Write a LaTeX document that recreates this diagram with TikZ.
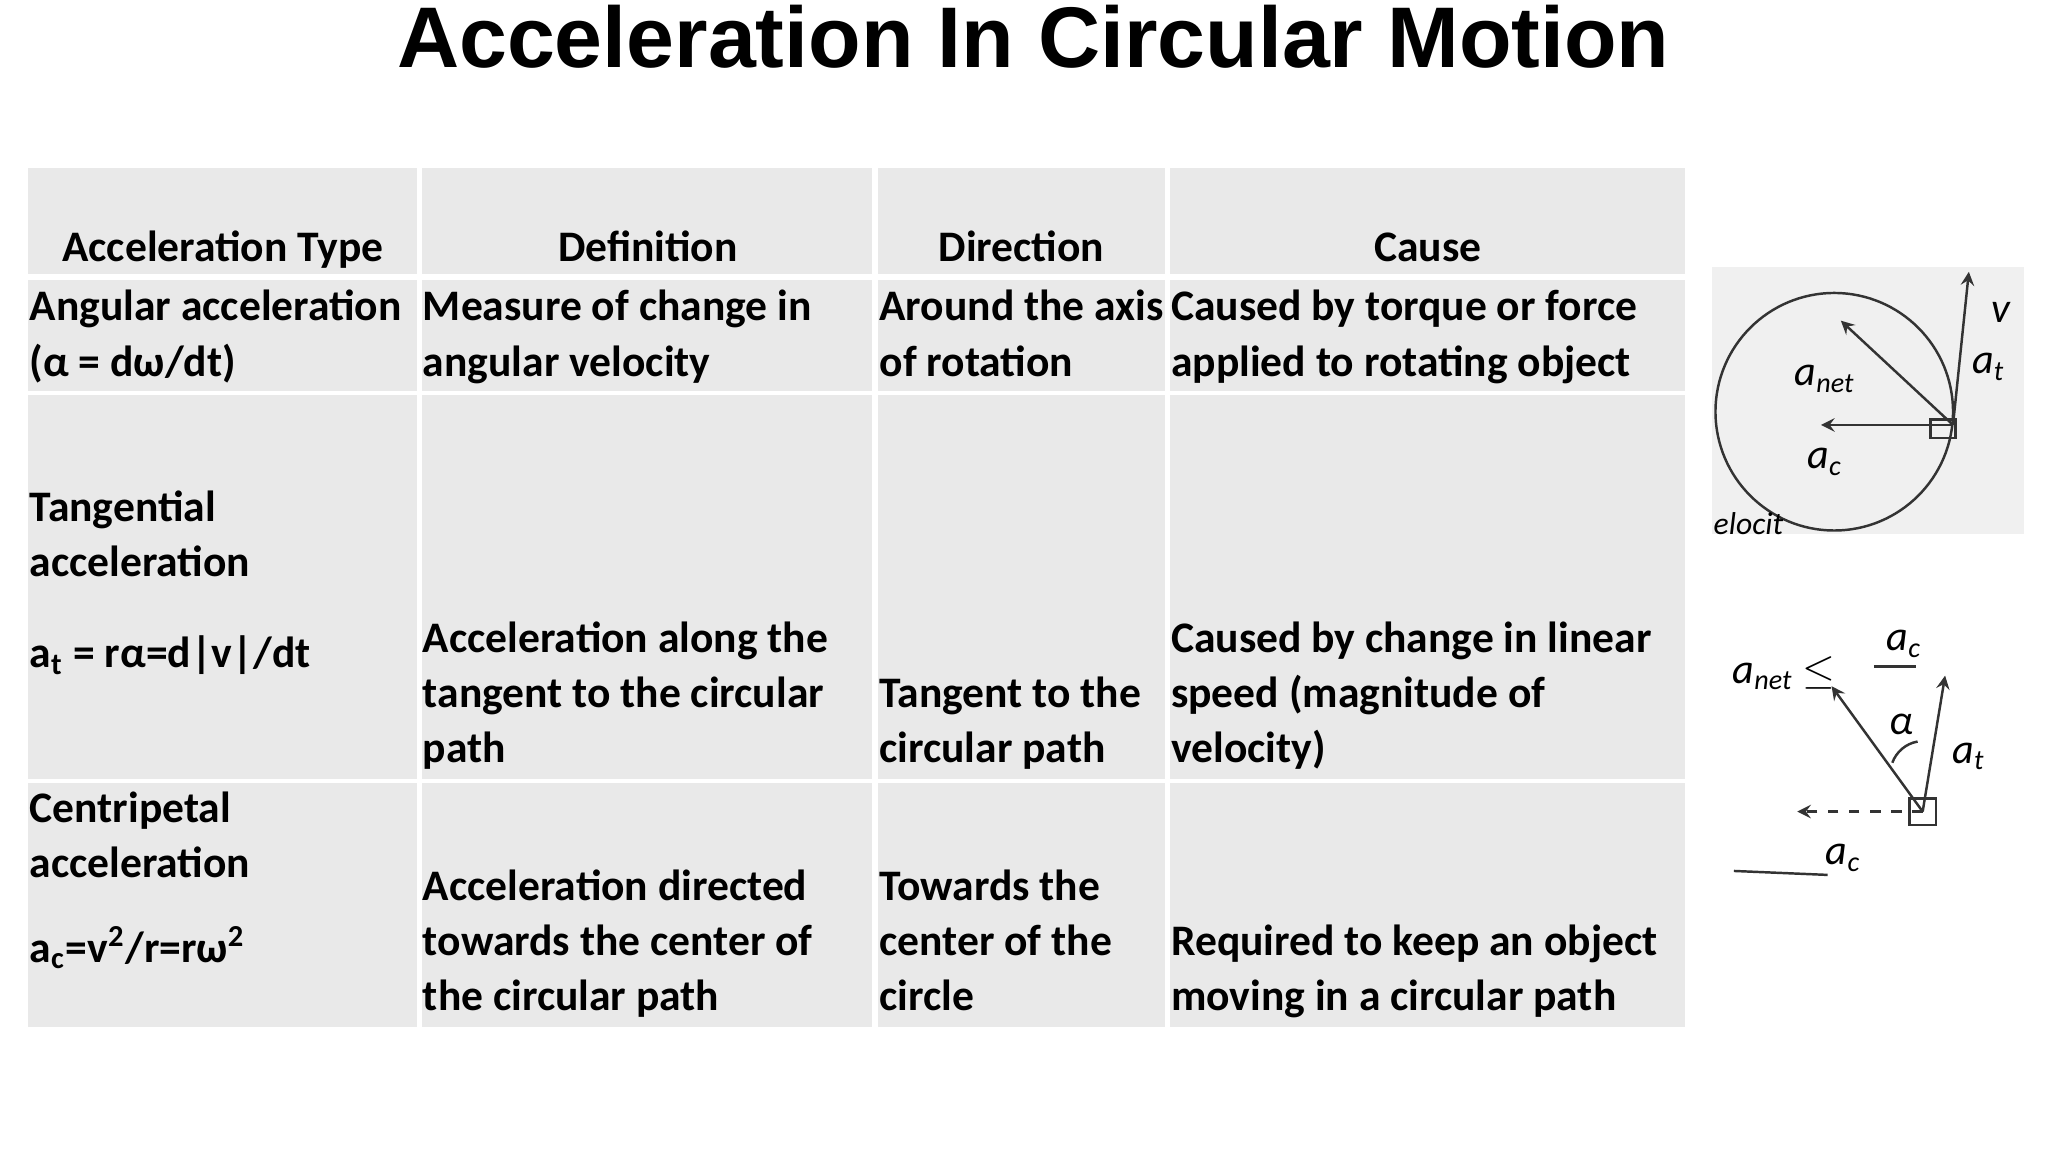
\documentclass[tikz,border=0pt]{standalone}
\usepackage{fontspec}
\setmainfont{Carlito}
\newfontfamily\titlefont{Liberation Sans}
\usetikzlibrary{positioning,calc}
\begin{document}
\begin{tikzpicture}[x=0.013196cm,y=-0.013196cm,
    cell/.style={fill=gray!17, draw=none},
    txt/.style={anchor=base west, align=left, font=\fontsize{12.4}{15.7}\selectfont\bfseries, inner sep=0pt},
    head/.style={anchor=base, font=\fontsize{12.4}{15.7}\selectfont\bfseries, inner sep=0pt},
    hand/.style={font=\fontsize{12}{12}\selectfont\itshape, inner sep=1pt},
    pen/.style={line width=0.7pt, black!80},
    arrow/.style={->, >=stealth, pen}
]
\useasboundingbox (0,0) rectangle (1552,873);

% title
\node[font=\titlefont\fontsize{24.5}{28}\selectfont\bfseries, anchor=base] (title) at (783,51) {Acceleration In Circular Motion};

% table cells
\foreach \xa/\xb in {21/316,320/661,665/883,887/1277}{
  \foreach \ya/\yb in {127/208,212/296,299/590,593/778}{
    \fill[cell] (\xa,\ya) rectangle (\xb,\yb);
  }
}

% header
\node[head] (h1) at (169,198) {Acceleration Type};
\node[head] (h2) at (491,198) {Definition};
\node[head] (h3) at (774,198) {Direction};
\node[head] (h4) at (1082,198) {Cause};

% angular row
\node[txt] (r1a) at (22,285) {Angular acceleration\\(α = dω/dt)};
\node[txt] (r1b) at (320,285) {Measure of change in\\angular velocity};
\node[txt] (r1c) at (666,285) {Around the axis\\of rotation};
\node[txt] (r1d) at (887,285) {Caused by torque or force\\applied to rotating object};

% tangential row
\node[txt] (r2a) at (22,437) {Tangential\\acceleration};
\node[txt] (r2e) at (22,506) {a\textsubscript{t} = rα=d|v|/dt};
\node[txt] (r2b) at (320,578) {Acceleration along the\\tangent to the circular\\path};
\node[txt] (r2c) at (666,578) {Tangent to the\\circular path};
\node[txt] (r2d) at (887,578) {Caused by change in linear\\speed (magnitude of\\velocity)};

% centripetal row
\node[txt] (r3a) at (22,665) {Centripetal\\acceleration};
\node[txt] (r3e) at (22,729) {a\textsubscript{c}=v\textsuperscript{2}/r=rω\textsuperscript{2}};
\node[txt] (r3b) at (320,766) {Acceleration directed\\towards the center of\\the circular path};
\node[txt] (r3c) at (666,766) {Towards the\\center of the\\circle};
\node[txt] (r3d) at (887,766) {Required to keep an object\\moving in a circular path};

% sketch 1
\fill[gray!12] (1297,202) rectangle (1534,405);
\begin{scope}
  \clip (1297,202) rectangle (1534,405);
  \draw[pen] (1390,312) circle (90);
\end{scope}
\coordinate (p) at (1480,322);
\draw[pen] (1463,318) rectangle (1482,332);
\draw[arrow] (p) -- (1395,243);
\draw[arrow] (p) -- (1380,322);
\draw[arrow] (p) -- (1492,206);
\node[hand] (anet) at (1383,287) {a\textsubscript{net}};
\node[hand] (ac1) at (1383,350) {a\textsubscript{c}};
\node[hand] (v1) at (1516,237) {v};
\node[hand] (at1) at (1507,278) {a\textsubscript{t}};
\node[hand, font=\fontsize{9}{9}\selectfont\itshape] (el) at (1325,397) {elocit};

% sketch 2
\coordinate (q) at (1457,615);
\draw[pen] (1447,605) rectangle (1467,625);
\draw[arrow] (q) -- (1388,520);
\draw[arrow] (q) -- (1474,512);
\draw[arrow, dashed] (q) -- (1362,615);
\draw[pen] (1434,578) arc (200:260:25);
\draw[pen] (1420,505) -- (1452,505);
\draw[pen] (1314,660) -- (1385,663);
\node[hand] (anet2) at (1352,510) {a\textsubscript{net} $\le$};
\node[hand] (ac2) at (1443,488) {a\textsubscript{c}};
\node[hand] (al2) at (1441,549) {α};
\node[hand] (at2) at (1492,573) {a\textsubscript{t}};
\node[hand] (ac3) at (1397,650) {a\textsubscript{c}};
\end{tikzpicture}
\end{document}
